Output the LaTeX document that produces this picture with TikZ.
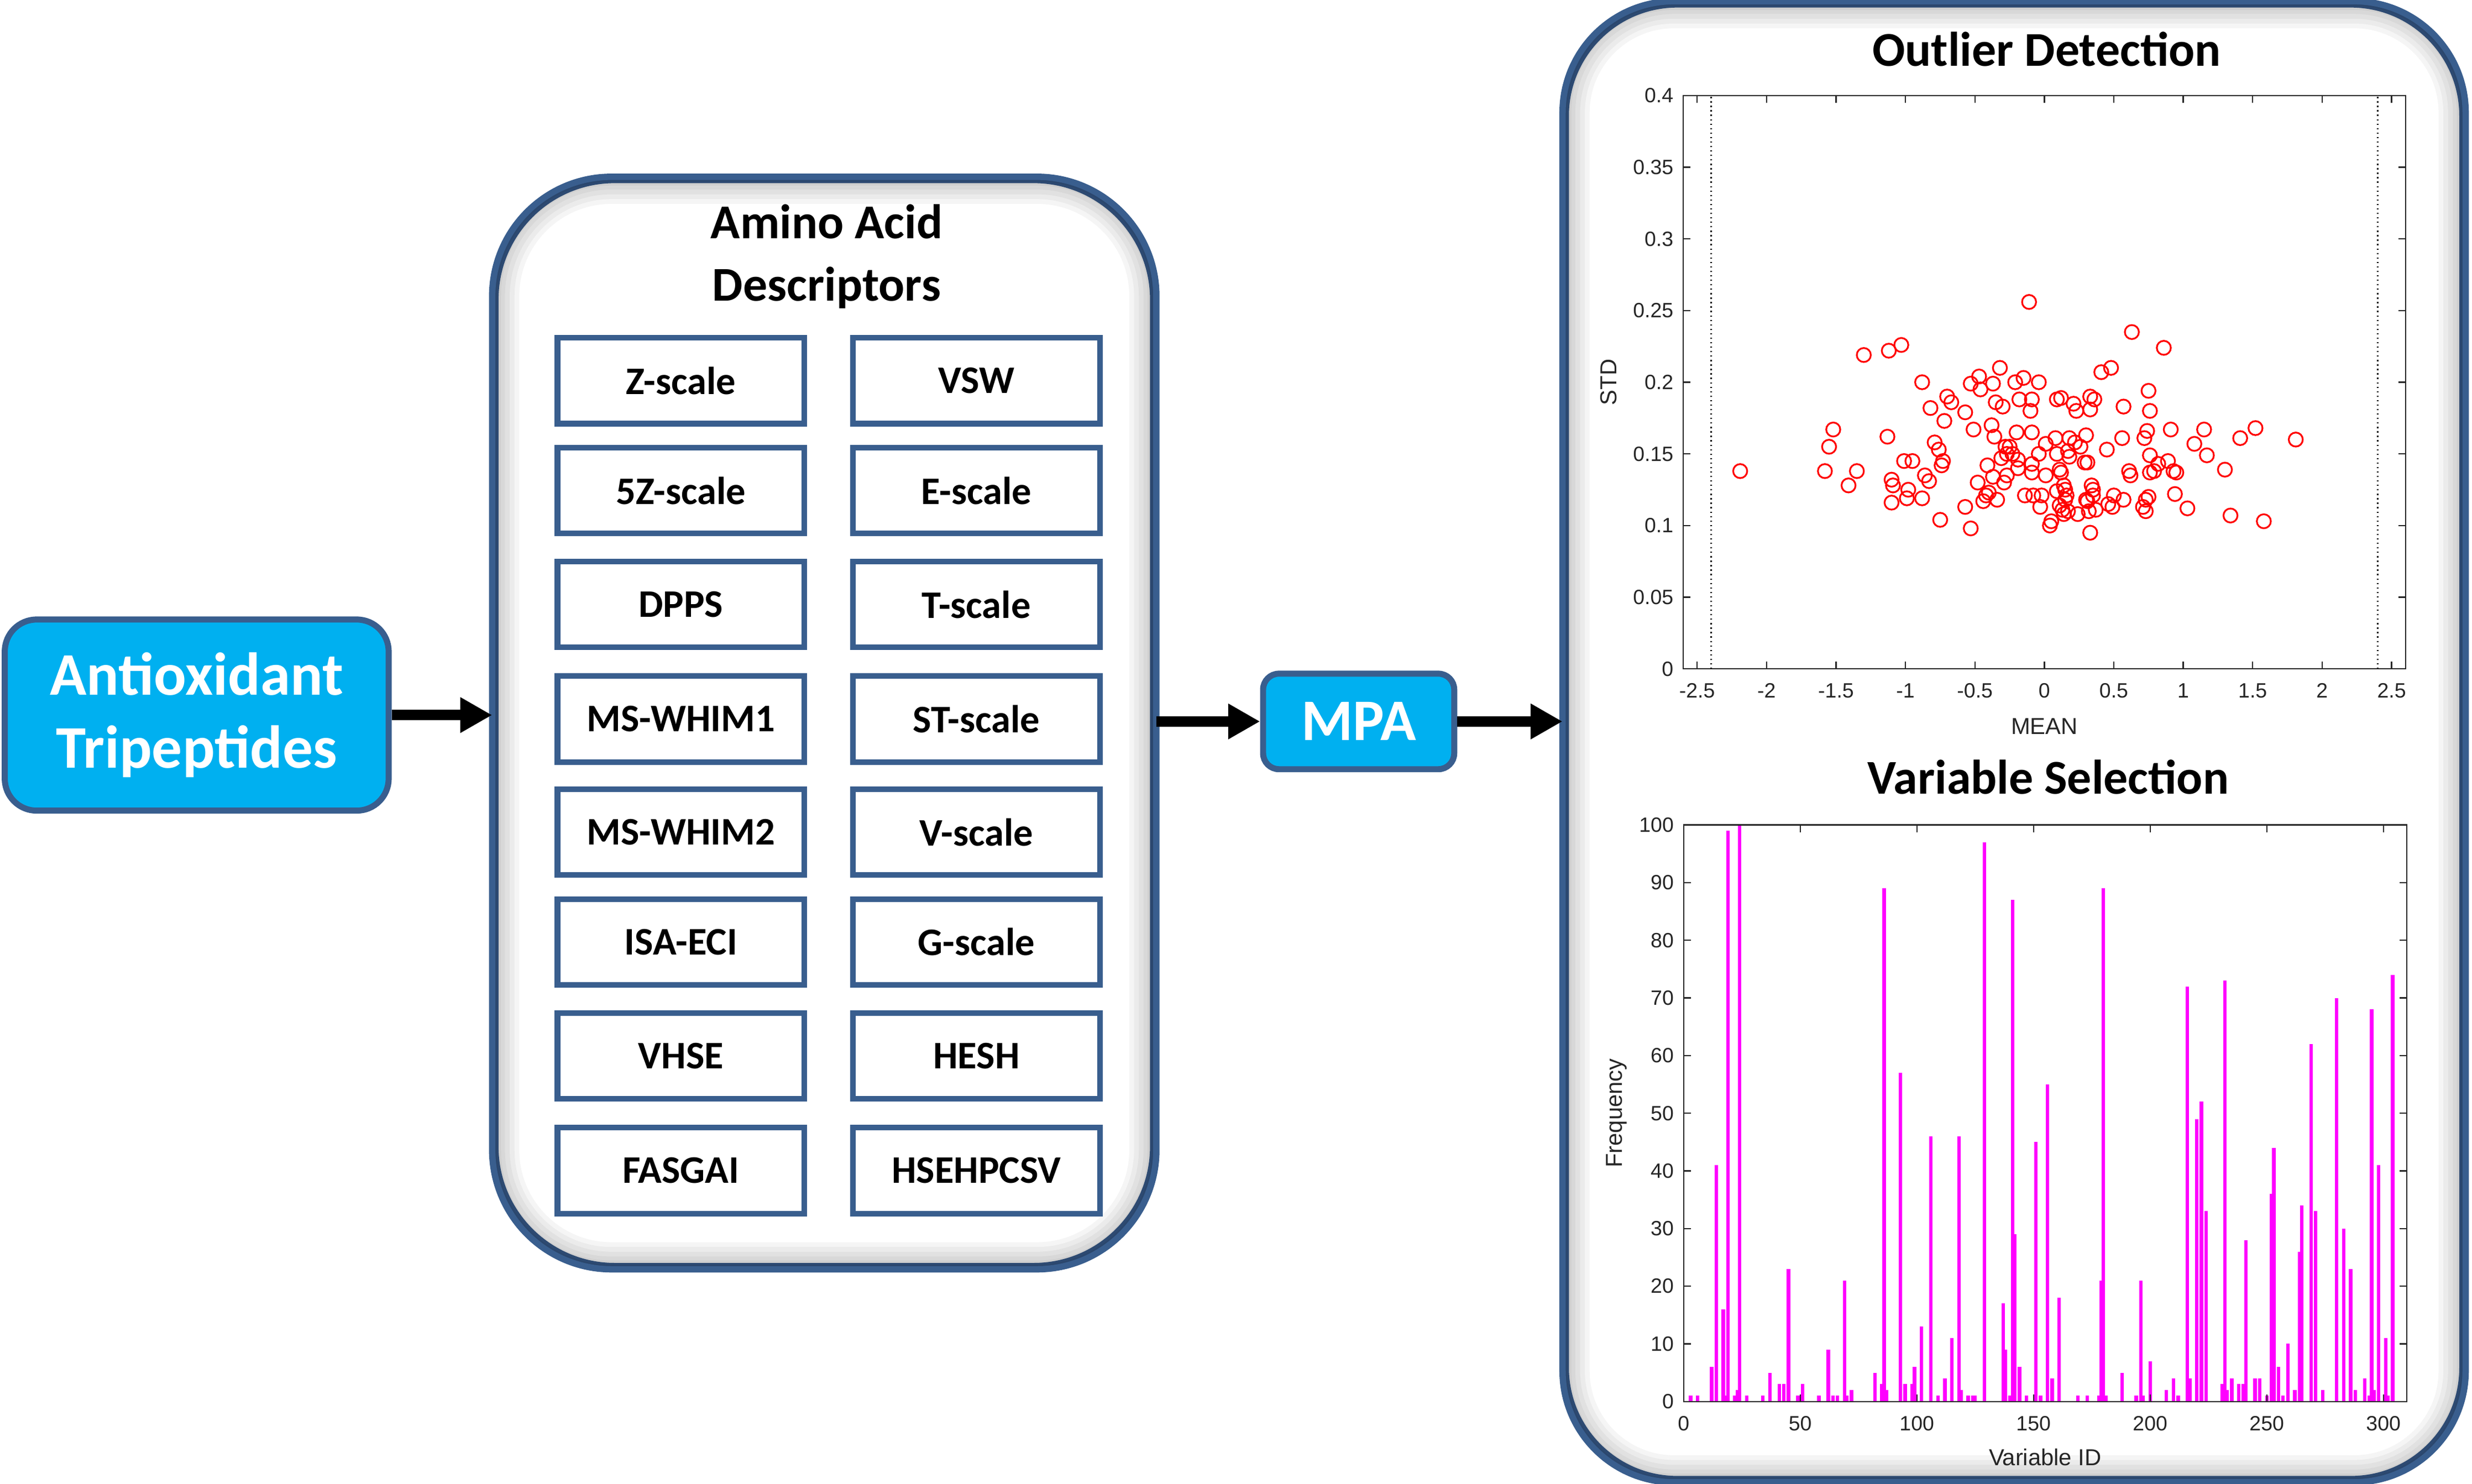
\documentclass[tikz,border=0pt]{standalone}
\usepackage{fontspec}
\setmainfont{Carlito}
\newfontfamily\axfont{Liberation Sans}
\usetikzlibrary{arrows.meta}
\definecolor{bordblue}{HTML}{395E8E}
\definecolor{cyanfill}{HTML}{00B0F0}
\definecolor{axgray}{HTML}{262626}
\definecolor{barmag}{HTML}{FF00FF}
\definecolor{ptred}{HTML}{FF0000}
\begin{document}
\begin{tikzpicture}[x=1pt,y=-1pt,
  cyanbox/.style={draw=bordblue, line width=3.8pt, fill=cyanfill, rounded corners=#1, text=white, align=center, inner sep=0pt},
  bigbox/.style={draw=bordblue, line width=4pt, fill=white, rounded corners=#1, inner sep=0pt},
  descbox/.style={draw=bordblue, line width=3.5pt, fill=white, minimum width=155pt, minimum height=54pt, inner sep=0pt, font=\fontsize{24.5}{29}\selectfont\bfseries},
  titletext/.style={font=\fontsize{30.5}{39}\selectfont\bfseries, align=center, inner sep=0pt},
  arr/.style={line width=6.5pt, -{Triangle[length=20pt,width=21pt]}},
  ticklab/.style={font=\axfont\fontsize{13}{15}\selectfont, text=axgray, inner sep=0pt},
  axlab/.style={font=\axfont\fontsize{14.5}{17}\selectfont, text=axgray, inner sep=0pt},
  axline/.style={draw=axgray, line width=0.8pt},
  shadowband/.style={black, opacity=0.04, rounded corners=#1}
]
\useasboundingbox (0,0) rectangle (1552,931.5);
\fill[white] (0,0) rectangle (1552,931.5);

% ---------- left input box ----------
\node[cyanbox=20pt, minimum width=241pt, minimum height=120pt,
      font=\fontsize{38}{46}\selectfont\bfseries] (anti) at (123.5,449) {Antioxidant\\Tripeptides};

% ---------- descriptor box ----------
\node[bigbox=75pt, minimum width=413pt, minimum height=682pt] (desc) at (517.5,454) {};
\begin{scope}
  \clip[rounded corners=75pt] (desc.south west) rectangle (desc.north east);
  \foreach \w in {34,28,22,16,11,6} {
    \draw[shadowband=75pt, line width=\w pt] (desc.south west) rectangle (desc.north east);
  }
\end{scope}
\draw[draw=bordblue, line width=4pt, rounded corners=75pt] (desc.south west) rectangle (desc.north east);
\node[titletext] (desctitle) at (519,161) {Amino Acid\\Descriptors};

\foreach \n/\y/\l/\r in {1/239/Z-scale/VSW, 2/308/5Z-scale/E-scale, 3/379.5/DPPS/T-scale,
    4/451.5/MS-WHIM1/ST-scale, 5/522.5/MS-WHIM2/V-scale, 6/591.5/ISA-ECI/G-scale,
    7/663/VHSE/HESH, 8/735/FASGAI/HSEHPCSV} {
  \node[descbox] (L\n) at (427.5,\y) {\l};
  \node[descbox] (R\n) at (613,\y) {\r};
}

% ---------- MPA ----------
\node[cyanbox=10pt, minimum width=120pt, minimum height=60pt,
      font=\fontsize{37}{44}\selectfont\bfseries] (mpa) at (853,453) {MPA};

% ---------- right box ----------
\node[bigbox=70pt, minimum width=563pt, minimum height=926pt] (res) at (1264.5,465.75) {};
\begin{scope}
  \clip[rounded corners=70pt] (res.south west) rectangle (res.north east);
  \foreach \w in {34,28,22,16,11,6} {
    \draw[shadowband=70pt, line width=\w pt] (res.south west) rectangle (res.north east);
  }
\end{scope}
\draw[draw=bordblue, line width=4pt, rounded corners=70pt] (res.south west) rectangle (res.north east);

\node[titletext] (t1) at (1285,31) {Outlier Detection};
\node[titletext] (t2) at (1286,488) {Variable Selection};

% ---------- arrows ----------
\draw[arr] (anti.east) -- (anti.east -| desc.west);
\draw[arr] (desc.east |- mpa.west) -- (mpa.west);
\draw[arr] (mpa.east) -- (mpa.east -| res.west);

% ---------- scatter plot ----------
\begin{scope}[shift={(1283.5,420)}, x=87.2pt, y=900pt]
  \fill[white] (-2.6,0) rectangle (2.6,0.4);
  \draw[black, line width=0.8pt, dotted] (-2.4,0) -- (-2.4,0.4);
  \draw[black, line width=0.8pt, dotted] (2.4,0) -- (2.4,0.4);
  \foreach \a/\b in {-2.19/0.138,-1.58/0.138,-1.55/0.155,-1.52/0.167,-1.41/0.128,-1.35/0.138,-1.30/0.219,
    -1.12/0.222,-1.03/0.226,-1.13/0.162,-1.10/0.132,-1.09/0.128,-1.10/0.116,-1.01/0.145,-0.95/0.145,
    -0.98/0.125,-0.99/0.119,-0.88/0.119,-0.88/0.200,-0.86/0.135,-0.83/0.131,-0.82/0.182,-0.79/0.158,
    -0.76/0.153,-0.75/0.104,-0.74/0.142,-0.73/0.145,-0.72/0.173,-0.70/0.190,-0.67/0.186,-0.57/0.179,
    -0.57/0.113,-0.53/0.098,-0.53/0.199,-0.51/0.167,-0.48/0.130,-0.47/0.204,-0.46/0.195,-0.44/0.117,
    -0.42/0.121,-0.41/0.142,-0.40/0.123,-0.38/0.170,-0.37/0.134,-0.37/0.199,-0.36/0.162,-0.35/0.186,
    -0.34/0.118,-0.32/0.210,-0.31/0.147,-0.30/0.183,-0.29/0.130,-0.28/0.155,-0.27/0.135,-0.27/0.150,
    -0.25/0.155,-0.23/0.150,-0.21/0.200,-0.20/0.165,-0.19/0.140,-0.19/0.146,-0.18/0.188,-0.15/0.203,
    -0.14/0.121,-0.11/0.256,-0.10/0.180,-0.09/0.188,-0.09/0.165,-0.09/0.137,-0.09/0.143,-0.08/0.121,
    -0.04/0.200,-0.04/0.150,-0.03/0.113,-0.02/0.121,0.01/0.135,0.01/0.157,0.04/0.100,0.05/0.103,
    0.08/0.161,0.09/0.188,0.09/0.124,0.09/0.150,0.11/0.114,0.11/0.139,0.12/0.189,0.12/0.137,0.13/0.111,
    0.14/0.128,0.14/0.108,0.15/0.118,0.15/0.125,0.16/0.121,0.17/0.110,0.17/0.152,0.18/0.161,0.18/0.148,
    0.21/0.185,0.22/0.158,0.23/0.180,0.24/0.108,0.26/0.155,0.29/0.144,0.30/0.118,0.30/0.163,0.31/0.144,
    0.31/0.117,0.32/0.110,0.33/0.190,0.33/0.095,0.33/0.181,0.34/0.128,0.35/0.121,0.35/0.125,0.36/0.188,
    0.37/0.111,0.41/0.207,0.45/0.153,0.46/0.115,0.48/0.210,0.49/0.113,0.50/0.121,0.56/0.161,0.57/0.118,
    0.57/0.183,0.61/0.138,0.62/0.135,0.63/0.235,0.71/0.113,0.72/0.161,0.73/0.110,0.73/0.118,0.74/0.166,
    0.75/0.194,0.75/0.120,0.76/0.149,0.76/0.137,0.76/0.180,0.79/0.138,0.82/0.143,0.86/0.224,0.89/0.145,
    0.91/0.167,0.93/0.138,0.94/0.122,0.95/0.137,1.03/0.112,1.08/0.157,1.15/0.167,1.17/0.149,1.30/0.139,
    1.34/0.107,1.41/0.161,1.52/0.168,1.58/0.103,1.81/0.160} {
    \draw[ptred, line width=1.1pt] (\a,\b) circle[radius=4.4pt];
  }
  \draw[axline] (-2.6,0) rectangle (2.6,0.4);
  \foreach \t in {-2.5,-2,-1.5,-1,-0.5,0,0.5,1,1.5,2,2.5} {
    \draw[axline] (\t,0) -- ++(0pt,4.5pt);
    \draw[axline] (\t,0.4) -- ++(0pt,-4.5pt);
    \node[ticklab, anchor=north] (sx\t) at ([yshift=-9pt]\t,0) {\t};
  }
  \foreach \t in {0,0.05,0.1,0.15,0.2,0.25,0.3,0.35,0.4} {
    \draw[axline] (-2.6,\t) -- ++(4.5pt,0pt);
    \draw[axline] (2.6,\t) -- ++(-4.5pt,0pt);
    \node[ticklab, anchor=east] (sy\t) at ([xshift=-6pt]-2.6,\t) {\t};
  }
  \node[axlab] (meanlab) at ([yshift=-36pt]0,0) {MEAN};
  \node[axlab, rotate=90] (stdlab) at ([xshift=-47pt]-2.6,0.2) {STD};
\end{scope}

% ---------- bar plot ----------
\begin{scope}[shift={(1057,880)}, x=1.4645pt, y=3.62pt]
  \foreach \i/\h in {3/1,6/1,12/6,14/41,17/16,18/1,19/99,22/1,23/2,24/100,27/1,34/1,37/5,41/3,43/3,45/23,
    49/1,50/1,51/3,58/1,62/9,64/1,66/1,69/21,70/1,72/2,82/5,85/3,86/89,87/2,93/57,95/3,98/3,99/6,
    102/13,106/46,109/1,112/4,115/11,118/46,119/2,122/1,124/1,125/1,129/97,137/17,138/9,140/1,141/87,
    142/29,144/6,147/1,151/45,153/1,156/55,158/4,161/18,169/1,173/1,178/1,179/21,180/89,181/1,188/5,
    194/1,196/21,197/1,200/7,207/2,210/4,212/1,216/72,217/4,220/49,222/52,224/33,231/3,232/73,233/2,
    235/4,238/3,240/3,241/28,245/4,247/4,250/1,252/36,253/44,255/6,257/1,259/10,262/2,264/26,265/34,
    269/62,271/33,274/2,280/70,283/30,286/23,288/2,292/4,294/1,295/68,296/2,298/41,301/11,302/1,304/74} {
    \fill[barmag] (\i-0.75,0) rectangle (\i+0.75,\h);
  }
  \draw[axline] (0,0) rectangle (310,100);
  \foreach \t in {0,50,100,150,200,250,300} {
    \draw[axline] (\t,0) -- ++(0pt,4.5pt);
    \draw[axline] (\t,100) -- ++(0pt,-4.5pt);
    \node[ticklab, anchor=north] (bx\t) at ([yshift=-9pt]\t,0) {\t};
  }
  \foreach \t in {0,10,20,30,40,50,60,70,80,90,100} {
    \draw[axline] (0,\t) -- ++(4.5pt,0pt);
    \draw[axline] (310,\t) -- ++(-4.5pt,0pt);
    \node[ticklab, anchor=east] (by\t) at ([xshift=-6pt]0,\t) {\t};
  }
  \node[axlab] (varlab) at ([yshift=-35pt]155,0) {Variable ID};
  \node[axlab, rotate=90] (freqlab) at ([xshift=-42pt]0,50) {Frequency};
\end{scope}
\end{tikzpicture}
\end{document}
